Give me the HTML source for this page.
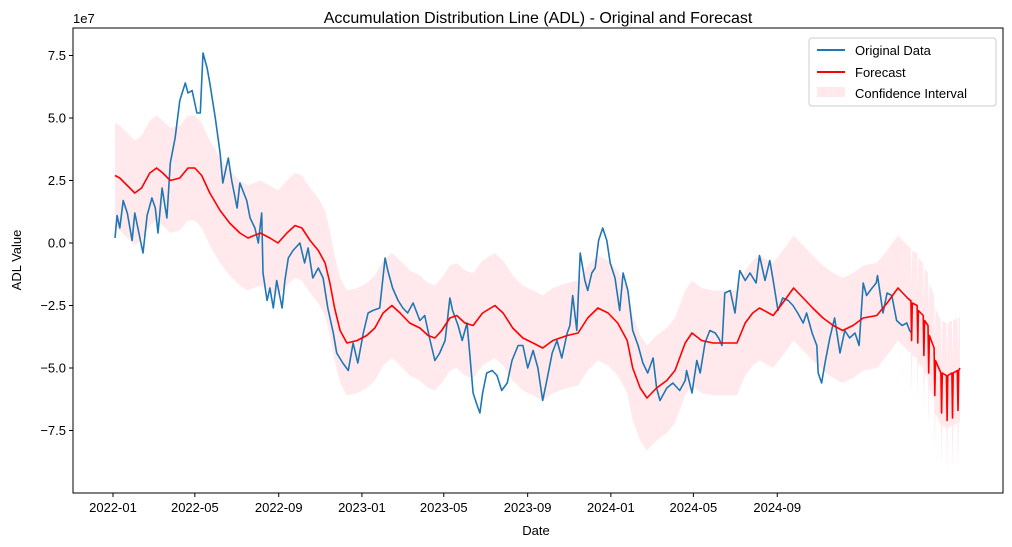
<!DOCTYPE html>
<html><head><meta charset="utf-8"><style>
html,body{margin:0;padding:0;background:#fff}
svg{display:block;font-family:"Liberation Sans","DejaVu Sans",sans-serif}
</style></head><body>
<svg id="chart" width="1012" height="547" viewBox="0 0 1012 547">
<rect x="0" y="0" width="1012" height="547" fill="#fff"/>
<text x="538" y="23" font-size="16" text-anchor="middle" fill="#000">Accumulation Distribution Line (ADL) - Original and Forecast</text>
<g id="band"></g>
<g id="lines"></g>
<g id="axes"></g>
<rect x="73" y="28" width="930" height="465" fill="none" stroke="#000" stroke-width="1"/>
<text x="73" y="23" font-size="13" fill="#000">1e7</text>
<text x="536" y="535" font-size="13" text-anchor="middle">Date</text>
<text transform="translate(21,260) rotate(-90)" font-size="13" text-anchor="middle">ADL Value</text>
<g>
<rect x="809" y="38" width="187" height="68" rx="3" fill="#fff" fill-opacity="0.8" stroke="#ccc"/>
<line x1="817" y1="50" x2="845" y2="50" stroke="#1f77b4" stroke-width="2"/>
<text x="855" y="55" font-size="13">Original Data</text>
<line x1="817" y1="72" x2="845" y2="72" stroke="red" stroke-width="2"/>
<text x="855" y="77" font-size="13">Forecast</text>
<rect x="817" y="87" width="28" height="10" fill="pink" fill-opacity="0.35"/>
<text x="855" y="98" font-size="13">Confidence Interval</text>
</g>
</svg>
<script>
// values in millions; days since 2022-01-01
const origDays=[3,6,10,15,21,28,32,44,50,57,62,66,72,79,84,91,98,106,110,116,123,128,132,138,142,150,157,161,169,174,182,186,196,201,208,213,218,220,226,230,235,240,248,252,257,264,274,281,286,293,301,308,315,323,328,337,345,352,359,367,374,381,391,399,403,410,418,425,432,440,450,457,465,472,479,487,494,498,506,512,519,523,528,534,538,542,548,556,563,570,578,585,594,601,608,616,623,630,636,644,651,658,666,670,674,680,685,692,696,702,707,712,718,724,729,736,743,748,755,762,770,777,784,792,797,802,812,821,831,839,841,849,856,861,868,875,883,888,893,897,905,912,919,927,934,943,948,956,963,968,975,982,990,997,1004,1012,1017,1025,1032,1034,1039,1044,1051,1058,1066,1073,1080,1088,1094,1100,1105,1113,1119,1121,1129,1135,1142,1149,1157,1164,1168,1171];
const origVals=[2,11,6,17,12,1,12,-4,11,18,14,4,22,10,32,42,57,64,60,61,52,52,76,70,64,50,36,24,34,25,14,24,17,10,6,0,12,-12,-23,-18,-26,-15,-26,-15,-6,-3,0,-8,-2,-14,-10,-14,-26,-36,-44,-48,-51,-40,-48,-36,-28,-27,-26,-6,-11,-18,-23,-26,-28,-24,-31,-29,-39,-47,-44,-39,-22,-27,-33,-39,-32,-44,-60,-65,-68,-60,-52,-51,-53,-59,-56,-47,-41,-41,-50,-43,-50,-63,-55,-44,-39,-46,-36,-33,-21,-35,-4,-15,-19,-12,-10,1,6,1,-8,-14,-27,-12,-19,-35,-41,-48,-52,-46,-58,-63,-58,-56,-59,-55,-51,-60,-47,-52,-40,-35,-36,-38,-41,-20,-19,-28,-11,-15,-12,-16,-5,-15,-7,-15,-27,-22,-23,-25,-28,-32,-28,-36,-41,-52,-56,-48,-38,-30,-44,-35,-38,-36,-41,-16,-21,-18,-16,-13,-28,-20,-21,-31,-33,-32,-35,-36,-49];
const fcDays=[3,10,21,32,42,54,64,73,84,98,110,120,130,142,157,171,186,198,216,230,242,255,267,277,289,301,311,318,325,333,343,358,372,384,396,409,421,435,450,462,472,482,494,504,516,528,542,560,572,586,601,616,630,645,666,682,696,711,726,740,754,762,773,783,797,812,824,839,849,863,880,900,915,927,938,948,968,982,998,1012,1026,1041,1056,1070,1085,1100,1120,1135,1151,1165,1169,
1170,1171,1172,1179,1180,1181,1188,1189,1190,1195,1196,1197,1204,1205,1206,1214,1215,1216,1222,1223,1224,1230,1231,1232,1238,1239,1240,1242];
const fcVals=[27,26,23,20,22,28,30,28,25,26,30,30,27,20,13,8,4,2,4,2,0,4,7,6,1,-3,-8,-16,-26,-35,-40,-39,-37,-34,-28,-25,-28,-32,-34,-37,-38,-35,-30,-29,-32,-33,-28,-25,-28,-34,-38,-40,-42,-39,-37,-36,-30,-26,-28,-32,-39,-50,-58,-62,-58,-55,-51,-40,-36,-39,-40,-40,-40,-32,-28,-26,-29,-24,-18,-22,-26,-30,-33,-35,-33,-30,-29,-24,-18,-22,-23,
-23,-39,-24,-25,-40,-27,-29,-45,-31,-33,-52,-37,-42,-61,-47,-52,-68,-52,-53,-71,-53,-52,-70,-52,-51,-67,-51,-50];
const ciHalf=21;
const yTicks=[7.5,5.0,2.5,0.0,-2.5,-5.0,-7.5];
const xTickLabels=["2022-01","2022-05","2022-09","2023-01","2023-05","2023-09","2024-01","2024-05","2024-09"];
const xTickDays=[0,120,243,365,485,608,730,851,974];

const NS="http://www.w3.org/2000/svg";
function xS(d){return 113+d*0.682;}
function yS(v){return 243-v*2.5;}
function mk(t,a,parent){const e=document.createElementNS(NS,t);for(const k in a)e.setAttribute(k,a[k]);parent.appendChild(e);return e;}

const n=Math.min(fcDays.length,fcVals.length);
const band=document.getElementById('band');
let up=[],lo=[];
for(let i=0;i<n;i++){up.push(xS(fcDays[i]).toFixed(1)+','+yS(fcVals[i]+ciHalf).toFixed(1));lo.push(xS(fcDays[i]).toFixed(1)+','+yS(fcVals[i]-ciHalf).toFixed(1));}
const bp=mk('polygon',{points:up.concat(lo.reverse()).join(' '),fill:'pink','fill-opacity':'0.35',stroke:'none'},band);



const lines=document.getElementById('lines');
const ol=mk('polyline',{points:origDays.map((d,i)=>xS(d).toFixed(1)+','+yS(origVals[i]).toFixed(1)).join(' '),fill:'none',stroke:'#1f77b4','stroke-width':'1.6','stroke-linejoin':'round'},lines);


let fp=[];
for(let i=0;i<n;i++)fp.push(xS(fcDays[i]).toFixed(1)+','+yS(fcVals[i]).toFixed(1));
const fl=mk('polyline',{points:fp.join(' '),fill:'none',stroke:'red','stroke-width':'1.6','stroke-linejoin':'round'},lines);



const axes=document.getElementById('axes');
yTicks.forEach(t=>{
  const y=yS(t*10);
  const l=mk('line',{x1:69,x2:73,y1:y,y2:y,stroke:'#000'},axes);
  
  
  const tx=mk('text',{x:66,y:y+4.5,'font-size':13,'text-anchor':'end'},axes);
  tx.textContent=t.toFixed(1).replace('-','\u2212');
  
  
});
xTickDays.forEach((d,i)=>{
  const x=xS(d);
  const l=mk('line',{x1:x,x2:x,y1:493,y2:497,stroke:'#000'},axes);
  
  
  const tx=mk('text',{x:x,y:512,'font-size':13,'text-anchor':'middle'},axes);
  tx.textContent=xTickLabels[i];
  
  
});
</script>
</body></html>
